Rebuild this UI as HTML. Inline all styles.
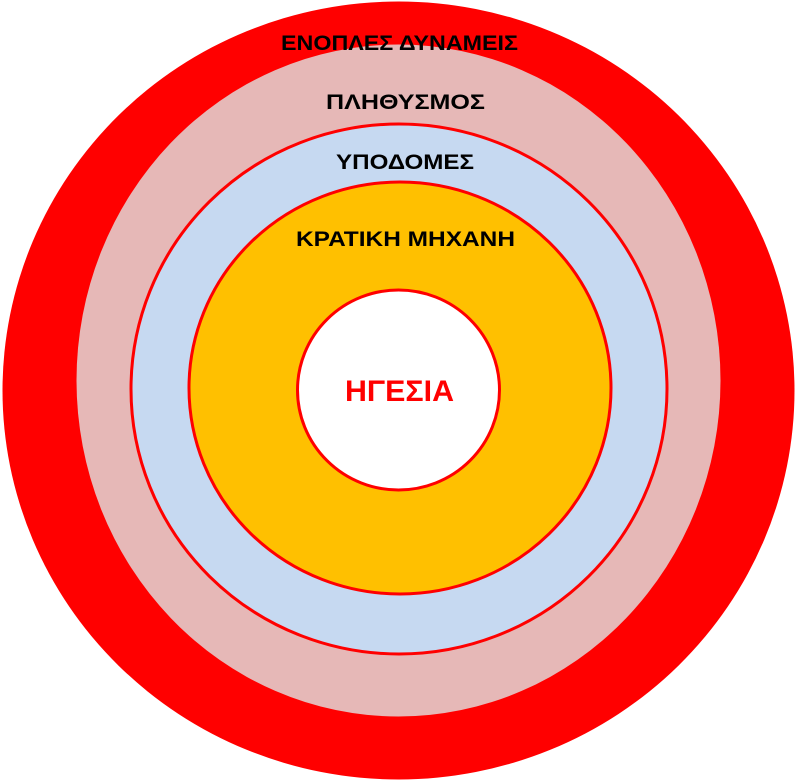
<!DOCTYPE html>
<html><head><meta charset="utf-8"><style>
html,body{margin:0;padding:0;background:#fff;}
svg{display:block;}
text{font-family:"Liberation Sans","DejaVu Sans",sans-serif;font-weight:bold;text-anchor:middle;}
</style></head><body>
<svg width="797" height="781" viewBox="0 0 797 781" xmlns="http://www.w3.org/2000/svg">
<ellipse cx="398.5" cy="390.5" rx="396" ry="389" fill="#ff0000"/>
<ellipse cx="398.5" cy="380.5" rx="322" ry="336" fill="#e6b8b7"/>
<ellipse cx="399" cy="389" rx="268" ry="265" fill="#c6d9f1" stroke="#ff0000" stroke-width="3"/>
<ellipse cx="400" cy="388" rx="211" ry="206" fill="#ffc000" stroke="#ff0000" stroke-width="3"/>
<ellipse cx="398.5" cy="390" rx="101" ry="100" fill="#fff" stroke="#ff0000" stroke-width="3"/>
<text x="399.5" y="50" font-size="21" fill="#000" textLength="237" lengthAdjust="spacingAndGlyphs">ΕΝΟΠΛΕΣ ΔΥΝΑΜΕΙΣ</text>
<text x="405.5" y="109" font-size="21" fill="#000" textLength="159" lengthAdjust="spacingAndGlyphs">ΠΛΗΘΥΣΜΟΣ</text>
<text x="405" y="169" font-size="21" fill="#000" textLength="138" lengthAdjust="spacingAndGlyphs">ΥΠΟΔΟΜΕΣ</text>
<text x="405.5" y="246" font-size="21" fill="#000" textLength="219" lengthAdjust="spacingAndGlyphs">ΚΡΑΤΙΚΗ ΜΗΧΑΝΗ</text>
<text x="399.5" y="401" font-size="30" fill="#ff0000" textLength="109" lengthAdjust="spacingAndGlyphs">ΗΓΕΣΙΑ</text>
</svg>
</body></html>
